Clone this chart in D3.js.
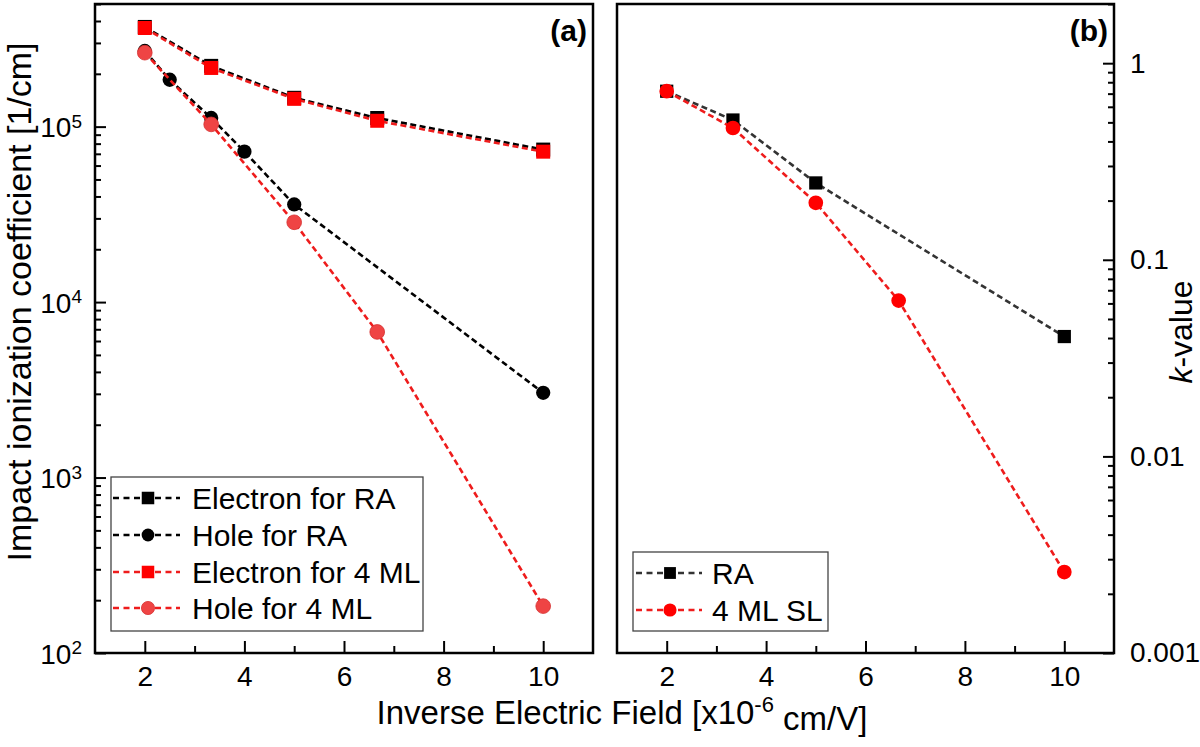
<!DOCTYPE html>
<html>
<head>
<meta charset="utf-8">
<script src="https://cdn.jsdelivr.net/npm/d3@7"></script>
<style>
  body { margin: 0; background: #fff; }
  text { font-family: "Liberation Sans", Arial, sans-serif; fill: #000; }
</style>
</head>
<body>
<script>
// Panel (a): impact ionization coefficient [1/cm] vs inverse field
var fieldElectronRA = [2, 3.333, 5, 6.667, 10];
var electronRA = [3.7e5, 2.22e5, 1.46e5, 1.12e5, 7.4e4];
var fieldHoleRA = [2, 2.5, 3.333, 4, 5, 10];
var holeRA = [2.7e5, 1.85e5, 1.12e5, 7.2e4, 3.6e4, 3.04e3];
var fieldML = [2, 3.333, 5, 6.667, 10];
var electronML = [3.65e5, 2.16e5, 1.44e5, 1.08e5, 7.2e4];
var holeML = [2.64e5, 1.03e5, 2.85e4, 6.76e3, 185];

// Panel (b): k-value
var fieldKRA = [2, 3.333, 5, 10];
var kRA = [0.72, 0.514, 0.246, 0.0407];
var fieldKML = [2, 3.333, 5, 6.667, 10];
var kML = [0.72, 0.468, 0.195, 0.062, 0.00258];

var xTicks = [2, 4, 6, 8, 10];
var xMinorTicks = [3, 5, 7, 9];
var alphaTicks = [1e2, 1e3, 1e4, 1e5];
var kTicks = [1, 0.1, 0.01, 0.001];
var kTickLabels = ["1", "0.1", "0.01", "0.001"];

var W = 1200, H = 747;
var TOP = 4, BOTTOM = 653;
var FONT = "28px";

var svg = d3.select("body").append("svg")
  .attr("width", W).attr("height", H);

var xA = d3.scaleLinear().domain([1, 11]).range([95, 593]);
var yA = d3.scaleLog().domain([1e2, 5e5]).range([BOTTOM, TOP]);
var xB = d3.scaleLinear().domain([1, 11]).range([617, 1114]);
var yB = d3.scaleLog().domain([1e-3, 2]).range([BOTTOM, TOP]);

var seriesA = [
  {name: "Electron for RA", x: fieldElectronRA, y: electronRA, shape: d3.symbolSquare,
   size: 196, fill: "#000", line: "#000"},
  {name: "Hole for RA", x: fieldHoleRA, y: holeRA, shape: d3.symbolCircle,
   size: 160, fill: "#000", line: "#000"},
  {name: "Electron for 4 ML", x: fieldML, y: electronML, shape: d3.symbolSquare,
   size: 196, fill: "#ff0000", line: "#ee1c1c"},
  {name: "Hole for 4 ML", x: fieldML, y: holeML, shape: d3.symbolCircle,
   size: 170, fill: "#ef4444", line: "#ee1c1c", stroke: "#d63030"}
];
var seriesB = [
  {name: "RA", x: fieldKRA, y: kRA, shape: d3.symbolSquare,
   size: 175, fill: "#000", line: "#333"},
  {name: "4 ML SL", x: fieldKML, y: kML, shape: d3.symbolCircle,
   size: 170, fill: "#ff0000", line: "#ee1c1c"}
];

function styleAxis(g) {
  g.select(".domain").remove();
  g.selectAll(".tick line").attr("stroke", "#000").attr("stroke-width", 2);
  g.selectAll(".tick text").style("font-size", FONT)
    .style("font-family", "'Liberation Sans', Arial, sans-serif");
}

function minorLog(scale) {
  return scale.ticks().filter(function(v) {
    var e = Math.log10(v);
    return Math.abs(e - Math.round(e)) > 1e-6;
  });
}

function drawXAxis(x) {
  svg.append("g").attr("transform", "translate(0," + BOTTOM + ")")
    .call(d3.axisBottom(x).tickValues(xTicks).tickSize(-12).tickPadding(13))
    .call(styleAxis);
  svg.append("g").attr("transform", "translate(0," + BOTTOM + ")")
    .call(d3.axisBottom(x).tickValues(xMinorTicks).tickSize(-7).tickFormat(""))
    .call(styleAxis);
}

function drawSeries(x, y, list) {
  var line = d3.line()
    .x(function(d) { return x(d[0]); })
    .y(function(d) { return y(d[1]); });
  list.forEach(function(s) {
    var pts = s.x.map(function(v, i) { return [v, s.y[i]]; });
    svg.append("path").datum(pts)
      .attr("d", line)
      .attr("fill", "none")
      .attr("stroke", s.line)
      .attr("stroke-width", 2.6)
      .attr("stroke-dasharray", "6,3.5");
    svg.selectAll(null).data(pts)
      .enter().append("path")
        .attr("transform", function(d) { return "translate(" + x(d[0]) + "," + y(d[1]) + ")"; })
        .attr("d", d3.symbol().type(s.shape).size(s.size))
        .attr("fill", s.fill)
        .attr("stroke", s.stroke || "none")
        .attr("stroke-width", 0.8);
  });
}

function drawLegend(list, box, rowY, lineX, markX, textX) {
  svg.append("rect")
    .attr("x", box[0]).attr("y", box[1])
    .attr("width", box[2] - box[0]).attr("height", box[3] - box[1])
    .attr("fill", "#fff").attr("stroke", "#444").attr("stroke-width", 1.3);
  list.forEach(function(s, i) {
    var ry = rowY[i];
    svg.append("line")
      .attr("x1", lineX[0]).attr("x2", lineX[1])
      .attr("y1", ry).attr("y2", ry)
      .attr("stroke", s.line).attr("stroke-width", 2.6)
      .attr("stroke-dasharray", "6,4.5");
    svg.append("path")
      .attr("transform", "translate(" + markX + "," + ry + ")")
      .attr("d", d3.symbol().type(s.shape).size(s.size * 0.8))
      .attr("fill", s.fill)
      .attr("stroke", s.stroke || "none").attr("stroke-width", 0.8);
    svg.append("text")
      .attr("x", textX).attr("y", ry)
      .attr("dy", "0.36em")
      .style("font-size", "30px")
      .text(s.name);
  });
}

function frame(x, y) {
  svg.append("rect")
    .attr("x", x.range()[0]).attr("y", TOP)
    .attr("width", x.range()[1] - x.range()[0]).attr("height", BOTTOM - TOP)
    .attr("fill", "none").attr("stroke", "#000").attr("stroke-width", 2.5);
}

// ----- panel (a)
drawXAxis(xA);
var gA = svg.append("g").attr("transform", "translate(" + xA.range()[0] + ",0)")
  .call(d3.axisLeft(yA).tickValues(alphaTicks).tickSize(-11).tickPadding(13))
  .call(styleAxis);
gA.selectAll(".tick text").each(function(d) {
  var t = d3.select(this).text(null).attr("dy", "0.36em");
  t.append("tspan").text("10");
  t.append("tspan").attr("dy", "-0.5em").style("font-size", "19px")
    .text(Math.round(Math.log10(d)));
});
svg.append("g").attr("transform", "translate(" + xA.range()[0] + ",0)")
  .call(d3.axisLeft(yA).tickValues(minorLog(yA)).tickSize(-6).tickFormat(""))
  .call(styleAxis);
drawSeries(xA, yA, seriesA);
drawLegend(seriesA, [111, 477, 423, 631], [498, 535, 572, 608], [113, 180], 148, 192);
frame(xA, yA);
svg.append("text").attr("x", 587).attr("y", 41)
  .attr("text-anchor", "end")
  .style("font-size", "30px").style("font-weight", "bold")
  .text("(a)");

// ----- panel (b)
drawXAxis(xB);
svg.append("g").attr("transform", "translate(" + xB.range()[1] + ",0)")
  .call(d3.axisRight(yB).tickValues(kTicks).tickSize(-11).tickPadding(16)
    .tickFormat(function(d, i) { return kTickLabels[i]; }))
  .call(styleAxis);
svg.append("g").attr("transform", "translate(" + xB.range()[1] + ",0)")
  .call(d3.axisRight(yB).tickValues(minorLog(yB)).tickSize(-6).tickFormat(""))
  .call(styleAxis);
drawSeries(xB, yB, seriesB);
drawLegend(seriesB, [633, 552, 828, 631], [573, 610], [636, 702], 670, 712);
frame(xB, yB);
svg.append("text").attr("x", 1108).attr("y", 41)
  .attr("text-anchor", "end")
  .style("font-size", "30px").style("font-weight", "bold")
  .text("(b)");

// ----- axis titles
var xt = svg.append("text").attr("x", 622).attr("y", 724)
  .attr("text-anchor", "middle").style("font-size", "33px");
xt.append("tspan").text("Inverse Electric Field [x10");
xt.append("tspan").attr("dy", "-0.55em").style("font-size", "22px").text("-6");
xt.append("tspan").attr("dy", "0.55em").text(" cm/V]");

svg.append("text")
  .attr("transform", "translate(31,302) rotate(-90)")
  .attr("text-anchor", "middle").style("font-size", "34px")
  .text("Impact ionization coefficient [1/cm]");

var kt = svg.append("text")
  .attr("transform", "translate(1192,332) rotate(-90)")
  .attr("text-anchor", "middle").style("font-size", "32px");
kt.append("tspan").style("font-style", "italic").text("k");
kt.append("tspan").text("-value");
</script>
</body>
</html>
